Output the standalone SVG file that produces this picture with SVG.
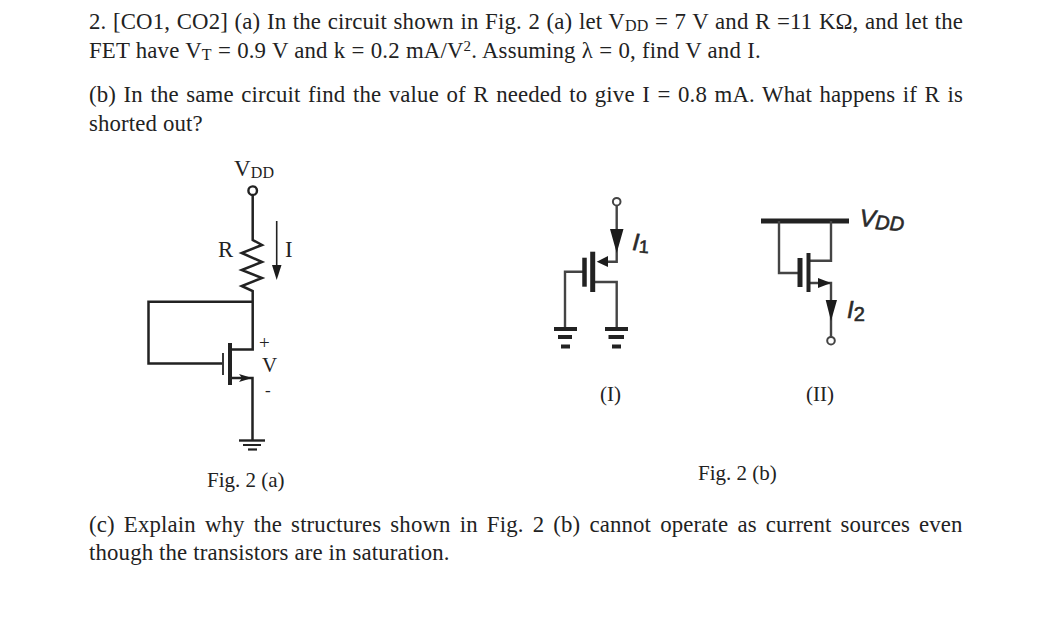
<svg xmlns="http://www.w3.org/2000/svg" width="1064" height="629" viewBox="0 0 1064 629">
<style>
.t{font-family:"Liberation Serif","Times New Roman",serif;font-size:22.8px;fill:#222;letter-spacing:.15px}
.c{font-family:"Liberation Serif","Times New Roman",serif;font-size:21px;fill:#222}
.s{font-family:"Liberation Sans",Arial,sans-serif;font-style:italic;fill:#2a2a2a;stroke:#2a2a2a;stroke-width:.6}
.w{fill:none;stroke:#222;stroke-width:2.5}
.g{fill:none;stroke:#444;stroke-width:2.4}
.p{fill:none;stroke:#222;stroke-width:4}
.a{fill:#1c1c1c}
</style>
<rect width="1064" height="629" fill="#fff"/>
<g id="text">
<text class="t" x="89" y="28.5" word-spacing=".75">2. [CO1, CO2] (a) In the circuit shown in Fig. 2 (a) let V<tspan font-size="16" dy="2">DD</tspan><tspan dy="-2"> = 7 V and R =11 KΩ, and let the</tspan></text>
<text class="t" x="89" y="57.5" word-spacing=".35">FET have V<tspan font-size="16" dy="2">T</tspan><tspan dy="-2"> = 0.9 V and k = 0.2 mA/V</tspan><tspan font-size="15" dy="-7">2</tspan><tspan dy="7">. Assuming λ = 0, find V and I.</tspan></text>
<text class="t" x="89" y="101.5" word-spacing="1.7">(b) In the same circuit find the value of R needed to give I = 0.8 mA. What happens if R is</text>
<text class="t" x="89" y="130.5">shorted out?</text>
<text class="t" x="89" y="532" word-spacing="3.25">(c) Explain why the structures shown in Fig. 2 (b) cannot operate as current sources even</text>
<text class="t" x="89" y="560">though the transistors are in saturation.</text>
</g>
<g id="fig-a-circuit">
<circle cx="252.7" cy="190.7" r="4.3" fill="#fff" stroke="#222" stroke-width="2.4"/>
<path class="w" d="M252.7 195V240L262 245L241.7 253L262 262L241.7 270L262 278L241.7 286L252.7 291V349.5H232M252.7 301.7H148.5V363.5H222"/>
<path class="p" d="M230 343V385"/>
<path class="w" d="M223 353V375" style="stroke-width:1.8"/>
<path class="w" d="M232 378H252.5V440"/>
<path class="a" d="M252 378L239 374L242 378L239 382Z"/>
<path class="w" d="M239 440.5H265" style="stroke-width:2.4"/>
<path class="w" d="M243 445H261" style="stroke-width:2"/>
<path class="w" d="M248 449.5H257" style="stroke-width:2.2"/>
<path class="w" d="M276.7 221V268" style="stroke-width:1.6"/>
<path class="a" d="M272 265H281.5L276.7 280Z"/>
<text class="t" x="234" y="176" style="font-size:23px">V<tspan style="font-size:16px" dy="2">DD</tspan></text>
<text class="t" x="218" y="257">R</text>
<text class="t" x="285" y="257">I</text>
<text class="t" x="259" y="349" style="font-size:19px">+</text>
<text class="t" x="262" y="372" style="font-size:21px">V</text>
<text class="t" x="265" y="396" style="font-size:17px">-</text>
<text class="c" x="207" y="487">Fig. 2 (a)</text>
</g>
<g id="fig-b-I">
<circle cx="616.7" cy="201.7" r="3.8" fill="#fff" stroke="#444" stroke-width="2"/>
<path class="g" d="M616.7 205.5V261.7H605M595 282H616.7V328M584 271.7H565V328"/>
<path class="a" d="M610 229H623.5L616.7 253ZM596.7 261.7L608 256V267Z"/>
<path class="p" d="M592.7 251.7V292" style="stroke-width:5"/>
<path class="p" d="M584.5 257.7V286.7" style="stroke-width:4.5"/>
<path class="p" d="M554 329H577M605 329H628"/>
<path class="p" d="M558 337H572M608.5 337H624"/>
<path class="p" d="M561 346.5H570M612 346.5H621"/>
<text class="s" x="632" y="250" font-size="24" transform="rotate(4 632 250)">I<tspan font-size="18" dy="2" font-style="normal">1</tspan></text>
<text class="c" x="600" y="401">(I)</text>
</g>
<g id="fig-b-II">
<path class="p" d="M761 221H849" style="stroke-width:5"/>
<path class="g" d="M779 221V273H800M831 221V260.7H810M810 283H831V337"/>
<circle cx="831" cy="340.7" r="3.8" fill="#fff" stroke="#444" stroke-width="2"/>
<path class="a" d="M831 283L818 278V288ZM825.7 300H837L831 321Z"/>
<path class="p" d="M800 258V287" style="stroke-width:5"/>
<path class="p" d="M808.5 253V292"/>
<text class="s" x="859" y="226" font-size="24" transform="rotate(4 859 226)">V<tspan font-size="20" dy="2">DD</tspan></text>
<text class="s" x="847" y="318" font-size="24">I<tspan font-size="20" dy="3" font-style="normal">2</tspan></text>
<text class="c" x="806" y="401">(II)</text>
<text class="c" x="698" y="480">Fig. 2 (b)</text>
</g>
</svg>
